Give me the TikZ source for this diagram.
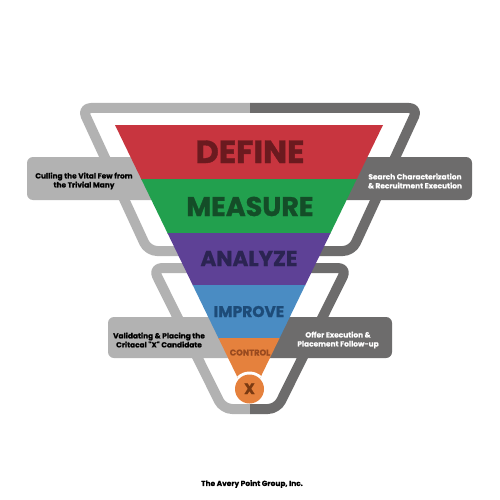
\documentclass[tikz,border=0pt]{standalone}
\usepackage{fontspec}
\setmainfont{Poppins}
\newfontfamily\pop{Poppins}[BoldFeatures={FakeBold=1.2}]
\newfontfamily\poplab{Poppins}[BoldFeatures={FakeBold=0.6}]
\definecolor{lg}{HTML}{B2B2B2}
\definecolor{dg}{HTML}{6D6C6C}
\definecolor{cred}{HTML}{C8353F}
\definecolor{cgreen}{HTML}{22A04E}
\definecolor{cpurple}{HTML}{5E4196}
\definecolor{cblue}{HTML}{4A8CC3}
\definecolor{corange}{HTML}{E5813D}
\definecolor{tred}{HTML}{6B1A1F}
\definecolor{tgreen}{HTML}{144D28}
\definecolor{tpurple}{HTML}{2B2452}
\definecolor{tblue}{HTML}{1D4B78}
\definecolor{torange}{HTML}{994A1F}
\definecolor{tx}{HTML}{7A3A12}
\tikzset{
  framepath/.style={line width=10pt, rounded corners=9pt, line join=round},
  labelbox/.style={rounded corners=6pt},
  stage/.style={anchor=base, inner sep=0pt},
  labeltext/.style={font=\poplab\bfseries\fontsize{7.4}{9}\selectfont, align=center, inner sep=0pt}
}
\begin{document}
\begin{tikzpicture}[x=1pt,y=-1pt]
\useasboundingbox (0,0) rectangle (500,500);
\fill[white] (0,0) rectangle (500,500);
% frames
\begin{scope}
  \clip (0,0) rectangle (250,500);
  \draw[framepath, lg] (200,251) -- (148,251) -- (82,108) -- (418,108) -- (352,251) -- (300,251);
  \draw[framepath, lg] (200,268) -- (153,268) -- (223,409) -- (277,409) -- (347,268) -- (300,268);
\end{scope}
\begin{scope}
  \clip (250,0) rectangle (500,500);
  \draw[framepath, dg] (200,251) -- (148,251) -- (82,108) -- (418,108) -- (352,251) -- (300,251);
  \draw[framepath, dg] (200,268) -- (153,268) -- (223,409) -- (277,409) -- (347,268) -- (300,268);
\end{scope}
% label boxes
\fill[labelbox, lg] (27,157) rectangle (200,200);
\fill[labelbox, dg] (300,157) rectangle (472,200);
\fill[labelbox, lg] (108,317) rectangle (240,358);
\fill[labelbox, dg] (260,317) rectangle (392,358);
% funnel
\begin{scope}
  \clip (115,125) -- (383,125) -- (249,401) -- cycle;
  \fill[cred] (0,125) rectangle (500,179.5);
  \fill[cgreen] (0,179) rectangle (500,233.5);
  \fill[cpurple] (0,233) rectangle (500,285.5);
  \fill[cblue] (0,285) rectangle (500,338.5);
  \fill[corange] (0,338) rectangle (500,402);
  \fill[white] (249.5,389) circle (17.5);
\end{scope}
\fill[corange] (249.5,389) circle (14.5);
% stage texts
\node[stage, text=tred, font=\pop\bfseries\fontsize{32}{32}\selectfont] (define) at (250,163) {DEFINE};
\node[stage, text=tgreen, font=\pop\bfseries\fontsize{27}{27}\selectfont] (measure) at (250,216) {MEASURE};
\node[stage, text=tpurple, font=\pop\bfseries\fontsize{21.5}{21.5}\selectfont] (analyze) at (249,266) {ANALYZE};
\node[stage, text=tblue, font=\pop\bfseries\fontsize{15.5}{15.5}\selectfont] (improve) at (249,317) {IMPROVE};
\node[stage, text=torange, font=\poplab\bfseries\fontsize{8.4}{8.4}\selectfont] (control) at (250,355.5) {CONTROL};
\node[stage, text=tx, font=\pop\bfseries\fontsize{15}{15}\selectfont] (x) at (249.5,394) {X};
% labels
\node[labeltext, text=black] (l1) at (84,181) {Culling the Vital Few from\\the Trivial Many};
\node[labeltext, text=white] (r1) at (415,181) {Search Characterization\\\& Recruitment Execution};
\node[labeltext, text=black] (l2) at (159,340) {Validating \& Placing the\\Critacal "X" Candidate};
\node[labeltext, text=white] (r2) at (338,340) {Offer Execution \&\\Placement Follow-up};
\node[labeltext, text=black] (footer) at (252,484) {The Avery Point Group, Inc.};
\end{tikzpicture}
\end{document}
